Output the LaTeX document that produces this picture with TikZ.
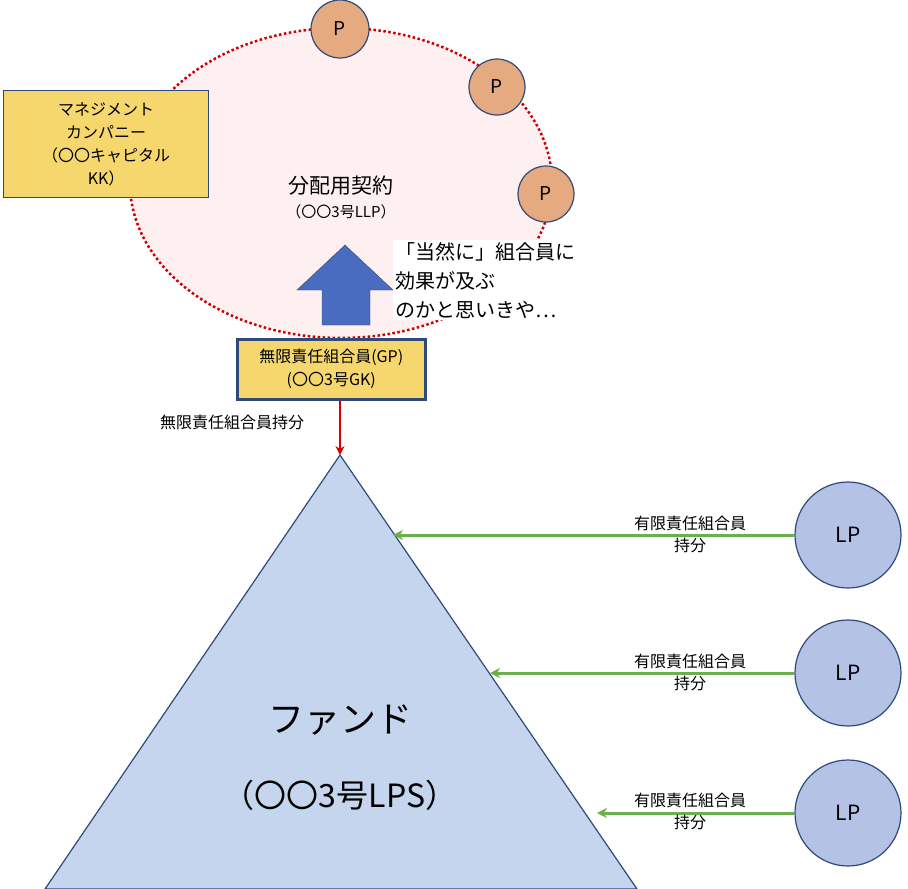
\documentclass[tikz,border=0pt]{standalone}
\usepackage{fontspec}
\setmainfont{Noto Sans CJK JP}
\usetikzlibrary{arrows.meta,shapes.geometric}
\definecolor{bd}{HTML}{2F4A7A}
\definecolor{yel}{HTML}{F5D76E}
\definecolor{org}{HTML}{E6AA80}
\definecolor{lpb}{HTML}{B4C3E5}
\definecolor{tri}{HTML}{C5D5EE}
\definecolor{pinkf}{HTML}{FEF0F0}
\definecolor{arr}{HTML}{4A6CC0}
\definecolor{grn}{HTML}{6AB04C}
\begin{document}
\begin{tikzpicture}[x=1pt,y=-1pt,
 pc/.style={circle,draw=bd,fill=org,line width=1.2pt,minimum size=58pt,inner sep=0pt,font=\fontsize{19}{19}\selectfont},
 lp/.style={circle,draw=bd,fill=lpb,line width=1.2pt,minimum size=106pt,inner sep=0pt,font=\fontsize{21}{21}\selectfont},
 box/.style={draw=bd,fill=yel,line width=1.2pt,align=center,font=\fontsize{16}{23}\selectfont},
 lbl/.style={align=center,font=\fontsize{16}{22}\selectfont},
 ga/.style={draw=grn,line width=3pt,-{Stealth[length=10pt,width=10pt]}}]
\useasboundingbox (0,0) rectangle (908,889);
\draw[red!80!black,fill=pinkf,line width=2.5pt,dash pattern=on 2.5pt off 2.5pt] (341,183) ellipse [x radius=211, y radius=155];
\node[pc] (p1) at (340,29) {P};
\node[pc,minimum size=56pt] (p2) at (497,87) {P};
\node[pc,minimum size=56pt] (p3) at (546,194) {P};
\node[box,minimum width=205pt,minimum height=107pt,anchor=north west] (mc) at (3,90) {マネジメント\\カンパニー\\（〇〇キャピタル\\KK）};
\node[font=\fontsize{21}{21}\selectfont] (t1) at (341,186) {分配用契約};
\node[font=\fontsize{15}{15}\selectfont] (t2) at (341,212) {（〇〇3号LLP）};
\fill[arr,draw=bd] (322,325) -- (322,290) -- (297,290) -- (345,245) -- (393,290) -- (370,290) -- (370,325) -- cycle;
\node[fill=white,align=left,anchor=north west,inner sep=2pt,font=\fontsize{20}{29}\selectfont] (t3) at (393,240) {「当然に」組合員に\\効果が及ぶ\\のかと思いきや…};
\node[box,line width=2.5pt,minimum width=188pt,minimum height=60pt,anchor=north west] (gp) at (236,338) {無限責任組合員(GP)\\(〇〇3号GK)};
\draw[fill=tri,draw=bd,line width=1.2pt] (340,455) coordinate (apex) -- (637,889) -- (45,889) -- cycle;
\draw[red!85!black,line width=2.5pt,-{Stealth[length=9pt,width=9pt]}] (gp.south -| apex) -- (apex);
\node[lbl] (l0) at (232,422) {無限責任組合員持分};
\node[font=\fontsize{36}{36}\selectfont] (f1) at (340,720) {ファンド};
\node[font=\fontsize{32}{32}\selectfont] (f2) at (340,795) {（〇〇3号LPS）};
\node[lp] (lp1) at (848,535) {LP};
\node[lp] (lp2) at (848,673) {LP};
\node[lp] (lp3) at (848,813) {LP};
\coordinate (e1) at (393,535);
\coordinate (e2) at (490,673);
\coordinate (e3) at (597,813);
\draw[ga] (lp1.west) -- (e1);
\draw[ga] (lp2.west) -- (e2);
\draw[ga] (lp3.west) -- (e3);
\node[lbl] (a1) at (690,534) {有限責任組合員\\持分};
\node[lbl] (a2) at (690,672) {有限責任組合員\\持分};
\node[lbl] (a3) at (690,811) {有限責任組合員\\持分};
\end{tikzpicture}
\end{document}
